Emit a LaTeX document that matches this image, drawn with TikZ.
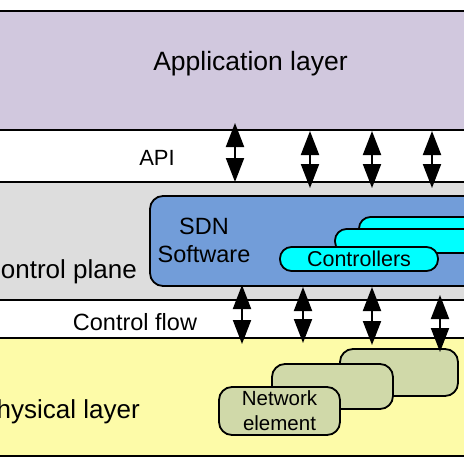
\documentclass[tikz,border=0pt]{standalone}
\usepackage{fontspec}
\setmainfont{Liberation Sans}
\usetikzlibrary{arrows.meta}
\definecolor{applav}{HTML}{D1C8DE}
\definecolor{ctlgray}{HTML}{DDDDDD}
\definecolor{phyyel}{HTML}{FDFBA8}
\definecolor{sdnblue}{HTML}{729DD9}
\definecolor{ctlcyan}{HTML}{00FFFF}
\definecolor{neolive}{HTML}{D0D9A9}
\tikzset{
  band/.style={draw=black, line width=1.8pt},
  dbl/.style={line width=2pt, {Triangle[length=24pt,width=18pt]}-{Triangle[length=24pt,width=18pt]}},
  ctrl/.style={draw=black, line width=1.8pt, fill=ctlcyan, rounded corners=11.5pt},
  nelem/.style={draw=black, line width=1.8pt, fill=neolive, rounded corners=13pt},
  lbl/.style={inner sep=0pt, text=black}
}
\begin{document}
\begin{tikzpicture}[x=1pt,y=-1pt]
\useasboundingbox (0,0) rectangle (464,464);
\clip (0,0) rectangle (464,464);
\fill[white] (0,0) rectangle (464,464);
% bands
\draw[band, fill=applav] (-10,11) rectangle (474,130);
\draw[band, fill=white] (-10,130) rectangle (474,182);
\draw[band, fill=ctlgray] (-10,182) rectangle (474,300);
\draw[band, fill=white] (-10,300) rectangle (474,338);
\draw[band, fill=phyyel] (-10,338) rectangle (474,456);
% labels of bands
\node[lbl, font=\fontsize{26.5}{30}\selectfont] (app) at (250.5,64) {Application layer};
\node[lbl, font=\fontsize{22}{25}\selectfont] (api) at (157,158) {API};
\node[lbl, anchor=east, font=\fontsize{26}{29}\selectfont] (cp) at (137,272) {Control plane};
\node[lbl, font=\fontsize{23.5}{26}\selectfont] (cf) at (135,322) {Control flow};
\node[lbl, anchor=east, font=\fontsize{26}{29}\selectfont] (pl) at (140,412) {Physical layer};
% SDN software box
\draw[line width=1.8pt, fill=sdnblue, rounded corners=13pt] (150,196) rectangle (490,286);
\node[lbl, align=center, font=\fontsize{23.5}{28}\selectfont] (sdn) at (204,240) {SDN\\Software};
% controllers
\draw[ctrl] (359,217) rectangle (500,241);
\draw[ctrl] (335,229) rectangle (500,253);
\node[ctrl, minimum width=158pt, minimum height=24pt, inner sep=0pt, font=\fontsize{21.5}{24}\selectfont] (ctl) at (359,259) {Controllers};
% network elements
\draw[nelem] (340,349) rectangle (458,396);
\draw[nelem] (272,364) rectangle (393,409);
\node[nelem, minimum width=121pt, minimum height=48pt, inner sep=0pt, align=center, font=\fontsize{20.5}{25}\selectfont] (ne) at (279.5,411) {Network\\element};
% arrow endpoints
\coordinate (a1t) at (235,123); \coordinate (a1b) at (235,182);
\coordinate (a2t) at (310,131); \coordinate (a2b) at (310,188);
\coordinate (a3t) at (372,131); \coordinate (a3b) at (372,188);
\coordinate (a4t) at (432,131); \coordinate (a4b) at (432,188);
\coordinate (c1t) at (242,285); \coordinate (c1b) at (242,344);
\coordinate (c2t) at (303,287); \coordinate (c2b) at (303,343);
\coordinate (c3t) at (372,287); \coordinate (c3b) at (372,345);
\coordinate (c4t) at (440,295); \coordinate (c4b) at (440,352);
\draw[dbl] (a1t) -- (a1b);
\draw[dbl] (a2t) -- (a2b);
\draw[dbl] (a3t) -- (a3b);
\draw[dbl] (a4t) -- (a4b);
\draw[dbl] (c1t) -- (c1b);
\draw[dbl] (c2t) -- (c2b);
\draw[dbl] (c3t) -- (c3b);
\draw[dbl] (c4t) -- (c4b);
\end{tikzpicture}
\end{document}
